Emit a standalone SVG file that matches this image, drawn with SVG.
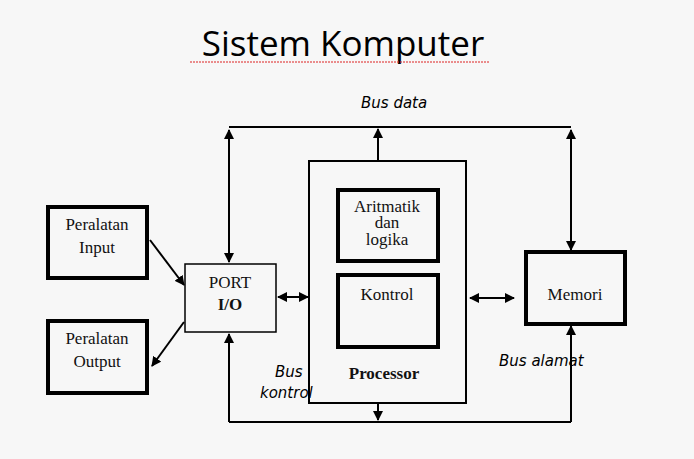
<svg xmlns="http://www.w3.org/2000/svg" width="694" height="459" viewBox="0 0 694 459">
<style>
.b{fill:none;stroke:#000}
.t{font-family:"Liberation Serif",serif;font-size:17px;text-anchor:middle;fill:#111}
.l{font-family:"DejaVu Sans",sans-serif;font-size:15px;font-style:italic;fill:#000}
.c{fill:none;stroke:#000;stroke-width:2}
.w{fill:none;stroke:#d22;stroke-width:1;stroke-dasharray:2 1}
</style>
<defs>
<marker id="a" viewBox="0 0 10 10" refX="9" refY="5" markerWidth="5" markerHeight="5" orient="auto-start-reverse"><path d="M0,0L10,5L0,10z" fill="#000"/></marker>
</defs>
<rect width="694" height="459" fill="#f7f7f7"/>
<text x="343" y="56" font-family="Open Sans,sans-serif" font-size="35" text-anchor="middle" fill="#000">Sistem Komputer</text>
<path class="w" d="M190,62h300"/>
<text class="l" x="361" y="108">Bus data</text>
<text class="l" x="275" y="377">Bus</text>
<text class="l" x="260" y="398">kontrol</text>
<text class="l" x="499" y="366">Bus alamat</text>
<g id="connectors">
<path class="c" d="M229,127H571"/>
<path class="c" d="M229,422H571"/>
<path class="c" d="M229,130V262" marker-start="url(#a)" marker-end="url(#a)"/>
<path class="c" d="M378,161V129" marker-end="url(#a)"/>
<path class="c" d="M571,130V250" marker-start="url(#a)" marker-end="url(#a)"/>
<path class="c" d="M229,422V334" marker-end="url(#a)"/>
<path class="c" d="M571,422V326" marker-end="url(#a)"/>
<path class="c" d="M378,403V420" marker-end="url(#a)"/>
<path class="c" d="M278,297H308" marker-start="url(#a)" marker-end="url(#a)"/>
<path class="c" d="M470,298H514" marker-start="url(#a)" marker-end="url(#a)"/>
<path class="c" d="M150,240L184,285" marker-end="url(#a)"/>
<path class="c" d="M184,322L152,366" marker-end="url(#a)"/>
</g>
<g id="input"><rect class="b" stroke-width="4" x="48" y="207" width="99" height="71"/><text class="t" x="97" y="230">Peralatan</text><text class="t" x="97" y="253">Input</text></g>
<g id="output"><rect class="b" stroke-width="4" x="48" y="321" width="99" height="72"/><text class="t" x="97" y="344">Peralatan</text><text class="t" x="97" y="367">Output</text></g>
<g id="port"><rect class="b" stroke-width="1.5" x="185" y="264" width="91" height="68"/><text class="t" x="230" y="288">PORT</text><text class="t" x="230" y="310" font-weight="bold">I/O</text></g>
<g id="processor"><rect class="b" stroke-width="2" x="309" y="161" width="157" height="242"/><text class="t" x="384" y="379" font-weight="bold">Processor</text></g>
<g id="alu"><rect class="b" stroke-width="4" x="338" y="190" width="100" height="71"/><text class="t" x="387" y="212">Aritmatik</text><text class="t" x="387" y="228">dan</text><text class="t" x="387" y="245">logika</text></g>
<g id="kontrol"><rect class="b" stroke-width="4" x="338" y="275" width="100" height="72"/><text class="t" x="387" y="300">Kontrol</text></g>
<g id="memori"><rect class="b" stroke-width="4" x="526" y="252" width="99" height="72"/><text class="t" x="575" y="300">Memori</text></g>
</svg>
